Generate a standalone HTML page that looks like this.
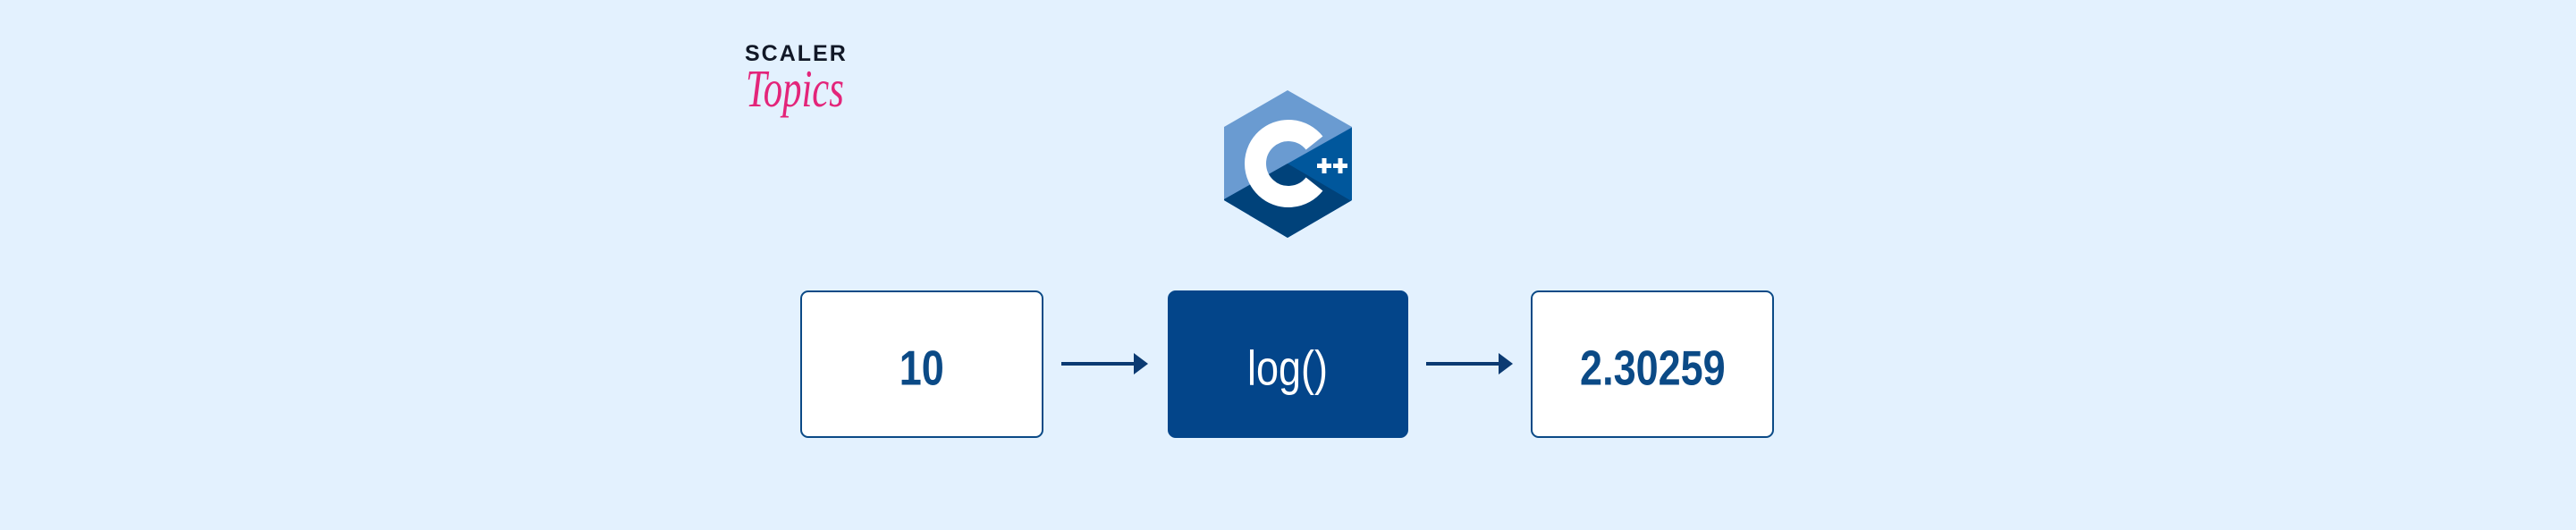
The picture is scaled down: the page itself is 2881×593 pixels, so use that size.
<!DOCTYPE html>
<html><head><style>
html,body{margin:0;padding:0}
body{width:2881px;height:593px;background:#e3f1fe;position:relative;overflow:hidden;font-family:"Liberation Sans",sans-serif}
.box{position:absolute;top:325px;height:165px;padding-top:8px;border:2px solid #0b4a86;border-radius:9px;background:#fff;box-sizing:border-box;display:flex;align-items:center;justify-content:center;font-size:50px;font-weight:bold;color:#0b4a86}
.box span{display:inline-block;transform:scale(0.9,1.1)}
</style></head><body>
<div style="position:absolute;left:833px;top:46px;font-size:25px;font-weight:bold;letter-spacing:2px;color:#111827">SCALER</div>
<div style="position:absolute;left:834px;top:66px;font-size:52px;font-style:italic;font-family:'Liberation Serif',serif;color:#e3257a;transform:scale(0.82,1.15);transform-origin:left top">Topics</div>
<svg style="position:absolute;left:0;top:0" width="2881" height="593">
<defs><clipPath id="h"><polygon points="1440,101 1512,142 1512,224 1440,266 1369,224 1369,142"/></clipPath></defs>
<g clip-path="url(#h)">
<rect x="1360" y="95" width="160" height="180" fill="#6a9bd1"/>
<polygon points="1520,138 1520,280 1360,280 1360,228" fill="#00579c"/>
<polygon points="1440,183 1520,230 1520,280 1360,280 1360,228" fill="#00427a"/>
</g>
<path d="M1470,160 A37,37 0 1 0 1470,206" fill="none" stroke="#fff" stroke-width="24"/>
<g fill="#fff"><rect x="1473" y="183" width="16" height="5"/><rect x="1478.5" y="177" width="5" height="17"/>
<rect x="1491" y="183" width="16" height="5"/><rect x="1496.5" y="177" width="5" height="17"/></g>
<g stroke="#0b3a72" stroke-width="4"><line x1="1187" y1="407" x2="1270" y2="407"/><line x1="1595" y1="407" x2="1678" y2="407"/></g>
<polygon points="1268,395 1284,407 1268,419" fill="#0b3a72"/>
<polygon points="1676,395 1692,407 1676,419" fill="#0b3a72"/>
</svg>
<div class="box" style="left:895px;width:272px"><span>10</span></div>
<div class="box" style="left:1306px;width:269px;background:#03458a;border-color:#03458a;color:#fff;font-weight:normal"><span>log()</span></div>
<div class="box" style="left:1712px;width:272px"><span>2.30259</span></div>
</body></html>
